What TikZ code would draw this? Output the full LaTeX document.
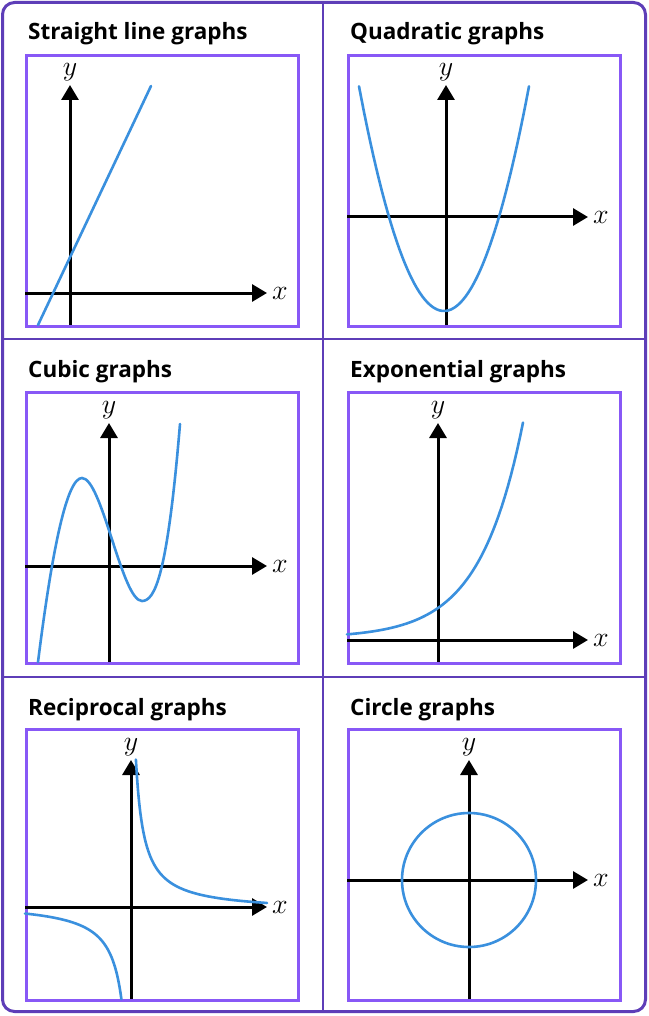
\RequirePackage{fix-cm}
\documentclass[tikz,border=0pt]{standalone}
\usepackage{fontspec}
\setsansfont{Open Sans}
\usetikzlibrary{arrows.meta,positioning}
\definecolor{framepurple}{RGB}{94,62,184}
\definecolor{boxpurple}{RGB}{136,88,246}
\definecolor{curveblue}{RGB}{58,144,222}

\begin{document}
\begin{tikzpicture}[
    x=1pt, y=-1pt,
    ttl/.style={anchor=base west, inner sep=0pt, font=\sffamily\bfseries\fontsize{22.5}{26}\selectfont},
    pane/.style={draw=boxpurple, line width=3pt, anchor=north west, inner sep=0pt, minimum width=272pt, minimum height=271pt},
    axis/.style={-{Triangle[length=15pt,width=17pt]}, line width=3pt, black},
    curve/.style={curveblue, line width=2.6pt, line cap=round},
    lbl/.style={inner sep=0pt, font=\fontsize{28}{28}\selectfont},
    sep/.style={framepurple, line width=2pt}
]
\fill[white] (0,0) rectangle (648,1016);
\useasboundingbox (0,0) rectangle (648,1016);

\draw[sep] (323,2)--(323,1012);
\draw[sep] (2,339)--(646,339);
\draw[sep] (2,677)--(646,677);
\draw[framepurple, line width=3pt, rounded corners=12pt] (2.5,2.5) rectangle (645.5,1011.5);

\node[ttl] (t1) at (28,40) {Straight line graphs};
\node[ttl] (t2) at (350,40) {Quadratic graphs};
\node[ttl] (t3) at (28,377) {Cubic graphs};
\node[ttl] (t4) at (350,377) {Exponential graphs};
\node[ttl] (t5) at (28,715) {Reciprocal graphs};
\node[ttl] (t6) at (350,715) {Circle graphs};

\node[pane] (b1) at (25,54) {};
\node[pane] (b2) at (347,54) {};
\node[pane] (b3) at (25,391) {};
\node[pane] (b4) at (347,391) {};
\node[pane] (b5) at (25,728) {};
\node[pane] (b6) at (347,728) {};

% axis ends
\coordinate (y1) at (70,85);   \coordinate (x1) at (267,293);
\coordinate (y2) at (446,85);  \coordinate (x2) at (588,217);
\coordinate (y3) at (109,423); \coordinate (x3) at (267,566);
\coordinate (y4) at (438,423); \coordinate (x4) at (588,640);
\coordinate (y5) at (131,760); \coordinate (x5) at (267,907);
\coordinate (y6) at (469,760); \coordinate (x6) at (588,880);

\draw[axis] (70,325)--(y1);   \draw[axis] (25,293)--(x1);
\draw[axis] (446,325)--(y2);  \draw[axis] (347,217)--(x2);
\draw[axis] (109,662)--(y3);  \draw[axis] (25,566)--(x3);
\draw[axis] (438,662)--(y4);  \draw[axis] (347,640)--(x4);
\draw[axis] (131,999)--(y5);  \draw[axis] (25,907)--(x5);
\draw[axis] (469,999)--(y6);  \draw[axis] (347,880)--(x6);

\foreach \i in {1,...,6}{
  \node[lbl, above=4pt of y\i] (ly\i) {$y$};
  \node[lbl, right=5pt of x\i] (lx\i) {$x$};
}

% graphs
\draw[curve] (38,325)--(151,86);
\draw[curve] plot[domain=359:529, samples=60] (\x,{311-0.0311*(\x-444)*(\x-444)});
\draw[curve] (38,662) .. controls (52.7,544.8) and (67.3,478) .. (82,478)
  .. controls (102,478) and (122,601) .. (142,601)
  .. controls (154.7,601) and (167.3,577) .. (180,424);
\draw[curve] plot[domain=347:523, samples=60] (\x,{638-30*exp(0.0232*(\x-438))});
\draw[curve] plot[domain=135.9:267, samples=120] (\x,{912-1259.5/(\x-127.64)});
\draw[curve] plot[domain=25:121.4, samples=120] (\x,{902-1259.5/(\x-134.36)});
\draw[curve] (469,880) circle[radius=67];
\end{tikzpicture}
\end{document}
